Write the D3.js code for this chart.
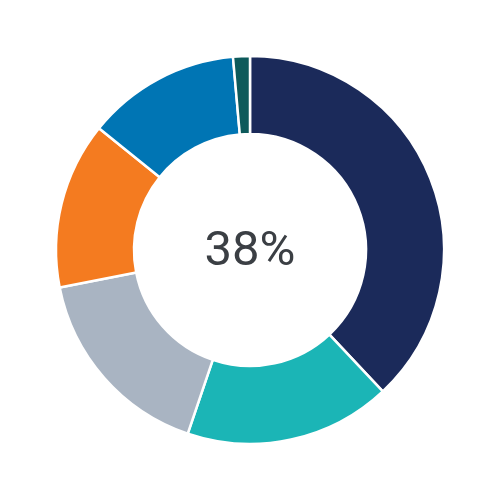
<!DOCTYPE html>
<html>
<head>
<meta charset="utf-8">
<script src="https://cdn.jsdelivr.net/npm/d3@7"></script>
<style>
html,body{margin:0;padding:0;background:#fff;}
</style>
</head>
<body>
<svg id="chart" width="500" height="500"></svg>
<script>
const categories = ["A", "B", "C", "D", "E", "F"];
const values = [38, 17.2, 16.7, 13.9, 12.8, 1.4];
const colors = ["#1b2a5a", "#1bb5b6", "#a9b4c2", "#f47b20", "#0075b4", "#0d5a5b"];
const centerLabel = "38%";

const svg = d3.select("#chart");
const g = svg.append("g").attr("transform", "translate(250,250)");

const pie = d3.pie().sort(null).value(d => d.v);
const arc = d3.arc().innerRadius(116).outerRadius(194);
const data = categories.map((c, i) => ({c, v: values[i], col: colors[i]}));

g.selectAll("path").data(pie(data)).enter().append("path")
  .attr("d", arc)
  .attr("fill", d => d.data.col)
  .attr("stroke", "#fff")
  .attr("stroke-width", 2.5);

g.append("text")
  .attr("x", 0).attr("y", 15)
  .attr("text-anchor", "middle")
  .attr("font-family", "Roboto, Arial, sans-serif")
  .attr("font-size", 49)
  .attr("fill", "#3b3f44")
  .text(centerLabel);
</script>
</body>
</html>
